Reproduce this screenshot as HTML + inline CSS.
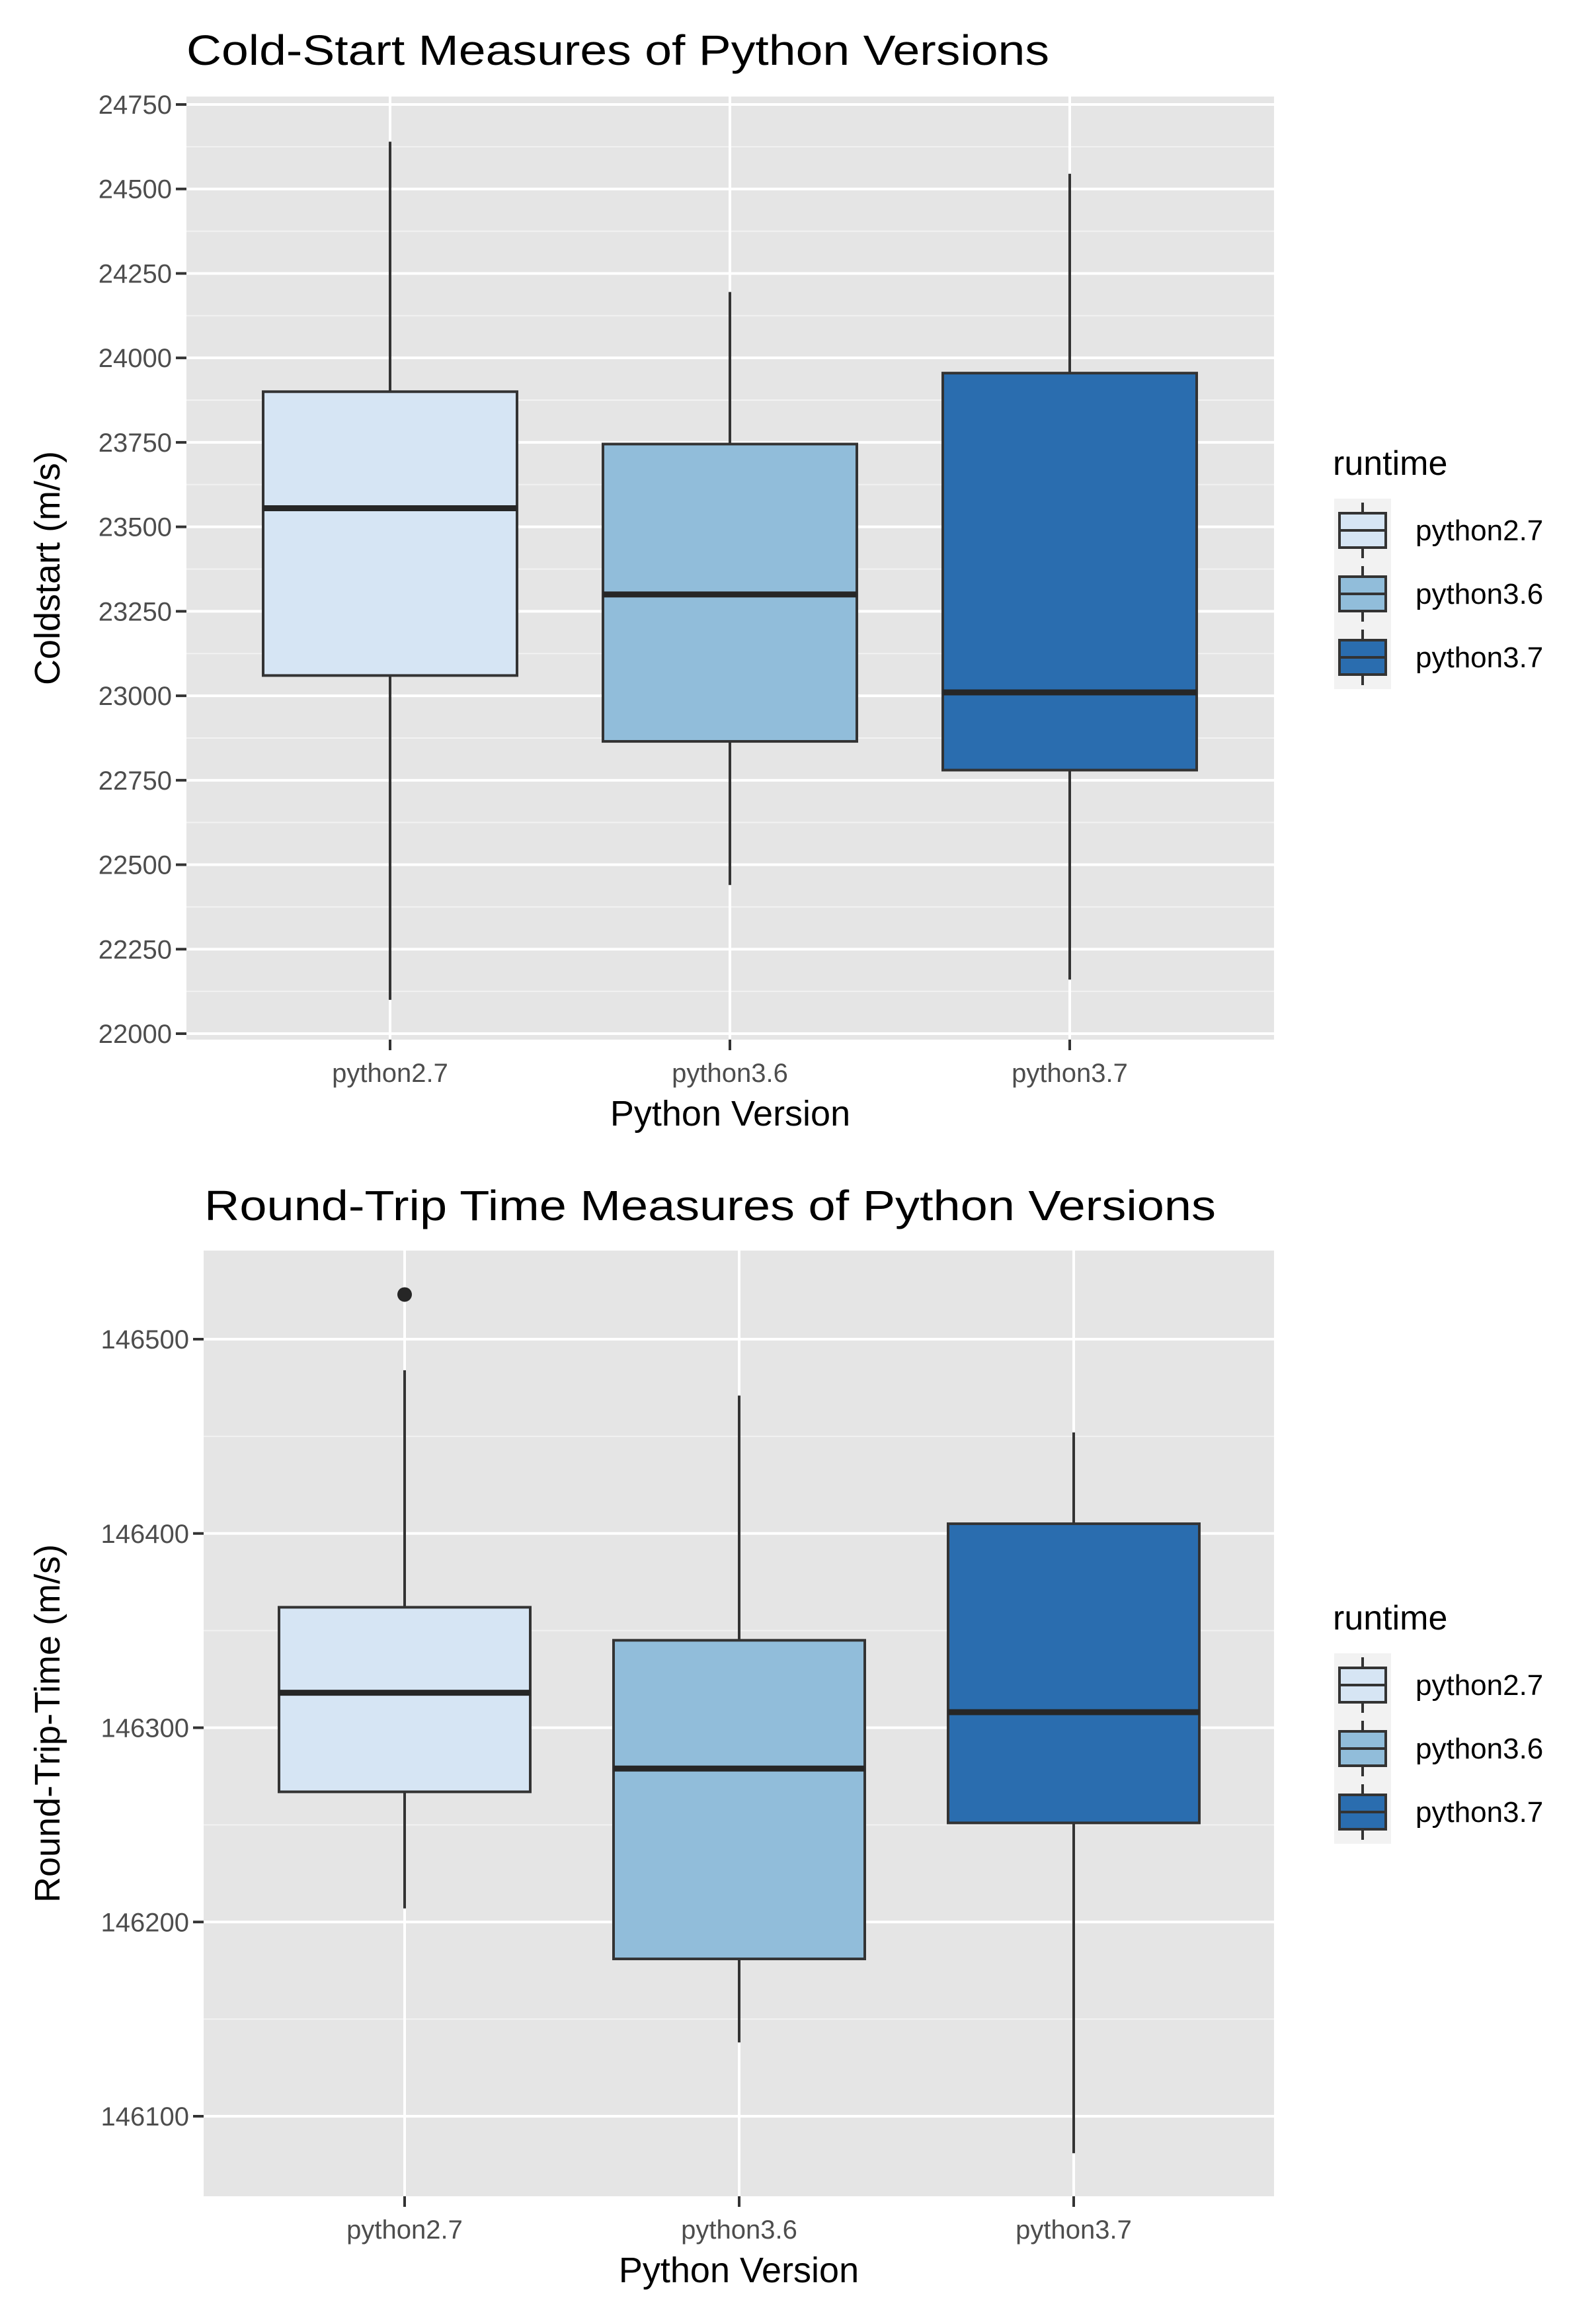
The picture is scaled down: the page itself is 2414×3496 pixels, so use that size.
<!DOCTYPE html>
<html><head><meta charset="utf-8"><style>
html,body{margin:0;padding:0;background:#fff;}
svg{display:block;font-family:"Liberation Sans",Arial,sans-serif;}
</style></head><body>
<svg id="s" width="2414" height="3496" viewBox="0 0 2414 3496" xmlns="http://www.w3.org/2000/svg"></svg>
<script>
const categories = ["python2.7","python3.6","python3.7"];
const fills = ["#d6e5f4","#91bdda","#2a6daf"];
// Cold-start chart data
const csQ1 = [23060, 22865, 22780];
const csMed = [23555, 23300, 23010];
const csQ3 = [23900, 23745, 23955];
const csLo = [22100, 22440, 22160];
const csHi = [24640, 24195, 24545];
const csOut = [[],[],[]];
const csTicks = [22000,22250,22500,22750,23000,23250,23500,23750,24000,24250,24500,24750];
// Round-trip chart data
const rtQ1 = [146267, 146181, 146251];
const rtMed = [146318, 146279, 146308];
const rtQ3 = [146362, 146345, 146405];
const rtLo = [146207, 146138, 146081];
const rtHi = [146484, 146471, 146452];
const rtOut = [[146523],[],[]];
const rtTicks = [146100,146200,146300,146400,146500];

const NS = "http://www.w3.org/2000/svg";
const svg = document.getElementById('s');
function mk(tag, attrs, parent){const e=document.createElementNS(NS,tag);for(const k in attrs)e.setAttribute(k,attrs[k]);(parent||svg).appendChild(e);return e;}

function drawChart(cfg){
  const g = mk('g',{});
  
  
  const L=cfg.left,R=cfg.right,T=cfg.top,B=cfg.bottom;
  const y = v => cfg.y0 + (v - cfg.v0) * (cfg.y1 - cfg.y0) / (cfg.v1 - cfg.v0);
  const x = i => cfg.xs[0] + i * (cfg.xs[1]-cfg.xs[0]);
  const title = mk('text',{x:cfg.titleX,y:cfg.titleY,'font-size':64,fill:'#000',textLength:cfg.titleLen,lengthAdjust:'spacingAndGlyphs'},g);
  title.textContent = cfg.title;
  
  
  const panel = mk('rect',{x:L,y:T,width:R-L,height:B-T,fill:'#e5e5e5'},g);
  
  
  const ticks = cfg.ticks;
  const step = ticks[1]-ticks[0];
  for(let i=-1;i<ticks.length;i++){
    const yy=y(ticks[0]+step*(i+0.5));
    if(yy<T||yy>B)continue;
    const ml = mk('line',{x1:L,x2:R,y1:yy,y2:yy,stroke:'#f2f2f2','stroke-width':2},g);
    
    
  }
  for(let i=0;i<ticks.length;i++){
    const yy=y(ticks[i]);
    const gl = mk('line',{x1:L,x2:R,y1:yy,y2:yy,stroke:'#fff','stroke-width':4},g);
    
    
    const tm = mk('line',{x1:L-16,x2:L,y1:yy,y2:yy,stroke:'#333','stroke-width':4},g);
    
    
    const tl = mk('text',{x:L-22,y:yy+14,'font-size':40,fill:'#4d4d4d','text-anchor':'end'},g);
    tl.textContent = ticks[i];
    
    
  }
  categories.forEach((c,i)=>{
    const xx=x(i);
    const vl = mk('line',{x1:xx,x2:xx,y1:T,y2:B,stroke:'#fff','stroke-width':4},g);
    
    
    const tm = mk('line',{x1:xx,x2:xx,y1:B,y2:B+16,stroke:'#333','stroke-width':4},g);
    
    
    const tl = mk('text',{x:xx,y:B+64,'font-size':40,fill:'#4d4d4d','text-anchor':'middle'},g);
    tl.textContent=c;
    
    
  });
  categories.forEach((c,i)=>{
    const xx=x(i), hw=cfg.hw;
    const bg = mk('g',{},g);
    
    
    const w1 = mk('line',{x1:xx,x2:xx,y1:y(cfg.hi[i]),y2:y(cfg.q3[i]),stroke:'#333','stroke-width':4},bg);
    
    
    const w2 = mk('line',{x1:xx,x2:xx,y1:y(cfg.q1[i]),y2:y(cfg.lo[i]),stroke:'#333','stroke-width':4},bg);
    
    
    const r = mk('rect',{x:xx-hw,y:y(cfg.q3[i]),width:2*hw,height:y(cfg.q1[i])-y(cfg.q3[i]),fill:fills[i],stroke:'#333','stroke-width':4},bg);
    
    
    const m = mk('line',{x1:xx-hw,x2:xx+hw,y1:y(cfg.med[i]),y2:y(cfg.med[i]),stroke:'#262626','stroke-width':9},bg);
    
    
    cfg.out[i].forEach(v=>{
      const o = mk('circle',{cx:xx,cy:y(v),r:11,fill:'#262626'},bg);
      
      
    });
  });
  const xt = mk('text',{x:(L+R)/2,y:B+130,'font-size':54,fill:'#000','text-anchor':'middle'},g);
  xt.textContent='Python Version';
  
  
  const yt = mk('text',{x:0,y:0,'font-size':54,fill:'#000','text-anchor':'middle',transform:`translate(90,${(T+B)/2}) rotate(-90)`},g);
  yt.textContent=cfg.ytitle;
  
  
  // legend
  const lg = mk('g',{},g);
  
  
  const lt = mk('text',{x:2016,y:cfg.legY,'font-size':52,fill:'#000'},lg);
  lt.textContent='runtime';
  
  
  categories.forEach((c,i)=>{
    const ky = cfg.legY+36+i*96;
    const e = mk('g',{},lg);
    
    
    mk('rect',{x:2018,y:ky,width:86,height:96,fill:'#f2f2f2'},e);
    mk('line',{x1:2061,x2:2061,y1:ky+6,y2:ky+90,stroke:'#333','stroke-width':4},e);
    mk('rect',{x:2026,y:ky+22,width:70,height:52,fill:fills[i],stroke:'#333','stroke-width':4},e);
    mk('line',{x1:2026,x2:2096,y1:ky+48,y2:ky+48,stroke:'#333','stroke-width':4},e);
    const t = mk('text',{x:2141,y:ky+63,'font-size':44,fill:'#000'},e);
    t.textContent=c;
    
    
  });
}

drawChart({name:'cold-start-chart',title:'Cold-Start Measures of Python Versions',titleX:282,titleY:98,titleLen:1305,
  left:282,right:1927,top:146,bottom:1572,v0:24750,y0:158,v1:22000,y1:1563,
  xs:[590,1104],hw:192,ticks:csTicks,q1:csQ1,med:csMed,q3:csQ3,lo:csLo,hi:csHi,out:csOut,
  ytitle:'Coldstart (m/s)',legY:718});
drawChart({name:'round-trip-chart',title:'Round-Trip Time Measures of Python Versions',titleX:309,titleY:1845,titleLen:1530,
  left:308,right:1927,top:1891,bottom:3321,v0:146500,y0:2025,v1:146100,y1:3200,
  xs:[612,1118],hw:190,ticks:rtTicks,q1:rtQ1,med:rtMed,q3:rtQ3,lo:rtLo,hi:rtHi,out:rtOut,
  ytitle:'Round-Trip-Time (m/s)',legY:2464});
</script>
</body></html>
